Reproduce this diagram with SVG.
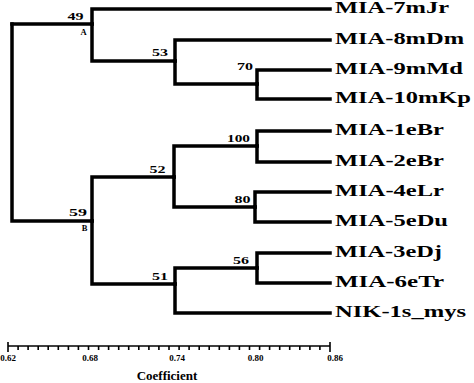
<svg xmlns="http://www.w3.org/2000/svg" width="474" height="383" viewBox="0 0 474 383">
<style>
.e{fill:none;stroke:#000;stroke-width:3.5;stroke-linecap:square;stroke-linejoin:miter}
.ax{fill:none;stroke:#000;stroke-width:1.6}
.leaf{font-family:"Liberation Serif","Times New Roman",serif;font-weight:bold;font-size:16px;fill:#000}
.bs{font-family:"Liberation Serif","Times New Roman",serif;font-weight:bold;font-size:11px;fill:#000;text-anchor:end}
.cl{font-family:"Liberation Serif","Times New Roman",serif;font-weight:bold;font-size:8.5px;fill:#000;text-anchor:middle}
.tk{font-family:"Liberation Serif","Times New Roman",serif;font-weight:bold;font-size:9px;fill:#000;text-anchor:middle}
.ttl{font-family:"Liberation Serif","Times New Roman",serif;font-weight:bold;font-size:13px;fill:#000;text-anchor:middle}
</style>
<rect width="474" height="383" fill="#fff"/>
<g id="connectors">
<path class="e" d="M12 24 H92"/>
<path class="e" d="M12 24 V221 H92"/>
<path class="e" d="M92 24 V9 H330"/>
<path class="e" d="M92 24 V61 H175"/>
<path class="e" d="M175 61 V40 H330"/>
<path class="e" d="M175 61 V84 H257"/>
<path class="e" d="M257 84 V70 H330"/>
<path class="e" d="M257 84 V99 H330"/>
<path class="e" d="M92 221 V177 H174"/>
<path class="e" d="M92 221 V284 H175"/>
<path class="e" d="M174 177 V146 H257"/>
<path class="e" d="M174 177 V207 H255"/>
<path class="e" d="M257 146 V131 H330"/>
<path class="e" d="M257 146 V162 H330"/>
<path class="e" d="M255 207 V192 H330"/>
<path class="e" d="M255 207 V222 H330"/>
<path class="e" d="M175 284 V268 H257"/>
<path class="e" d="M175 284 V313 H330"/>
<path class="e" d="M257 268 V253 H330"/>
<path class="e" d="M257 268 V283 H330"/>
</g>
<g id="nodeA"><text class="bs" x="83.5" y="20" textLength="16" lengthAdjust="spacingAndGlyphs">49</text><text class="cl" x="83.5" y="35">A</text></g>
<g id="node53"><text class="bs" x="168" y="56" textLength="16" lengthAdjust="spacingAndGlyphs">53</text></g>
<g id="node70"><text class="bs" x="253" y="69.5" textLength="16" lengthAdjust="spacingAndGlyphs">70</text></g>
<g id="nodeB"><text class="bs" x="87" y="216" textLength="18" lengthAdjust="spacingAndGlyphs">59</text><text class="cl" x="84.5" y="231">B</text></g>
<g id="node52"><text class="bs" x="165.5" y="173" textLength="16" lengthAdjust="spacingAndGlyphs">52</text></g>
<g id="node100"><text class="bs" x="250" y="142" textLength="23" lengthAdjust="spacingAndGlyphs">100</text></g>
<g id="node80"><text class="bs" x="250.5" y="203" textLength="16" lengthAdjust="spacingAndGlyphs">80</text></g>
<g id="node51"><text class="bs" x="168" y="280" textLength="16" lengthAdjust="spacingAndGlyphs">51</text></g>
<g id="node56"><text class="bs" x="249" y="264" textLength="16" lengthAdjust="spacingAndGlyphs">56</text></g>
<g id="leaf-7mJr"><text class="leaf" x="335" y="13" textLength="114" lengthAdjust="spacingAndGlyphs">MIA-7mJr</text></g>
<g id="leaf-8mDm"><text class="leaf" x="335" y="44" textLength="129" lengthAdjust="spacingAndGlyphs">MIA-8mDm</text></g>
<g id="leaf-9mMd"><text class="leaf" x="335" y="74" textLength="128" lengthAdjust="spacingAndGlyphs">MIA-9mMd</text></g>
<g id="leaf-10mKp"><text class="leaf" x="335" y="103" textLength="136" lengthAdjust="spacingAndGlyphs">MIA-10mKp</text></g>
<g id="leaf-1eBr"><text class="leaf" x="335" y="135" textLength="109" lengthAdjust="spacingAndGlyphs">MIA-1eBr</text></g>
<g id="leaf-2eBr"><text class="leaf" x="335" y="166" textLength="109" lengthAdjust="spacingAndGlyphs">MIA-2eBr</text></g>
<g id="leaf-4eLr"><text class="leaf" x="335" y="196" textLength="109" lengthAdjust="spacingAndGlyphs">MIA-4eLr</text></g>
<g id="leaf-5eDu"><text class="leaf" x="335" y="226" textLength="113" lengthAdjust="spacingAndGlyphs">MIA-5eDu</text></g>
<g id="leaf-3eDj"><text class="leaf" x="335" y="257" textLength="107" lengthAdjust="spacingAndGlyphs">MIA-3eDj</text></g>
<g id="leaf-6eTr"><text class="leaf" x="335" y="287" textLength="109" lengthAdjust="spacingAndGlyphs">MIA-6eTr</text></g>
<g id="leaf-NIK"><text class="leaf" x="335" y="317" textLength="131" lengthAdjust="spacingAndGlyphs">NIK-1s_mys</text></g>
<g id="axis">
<path class="ax" d="M8 346 H330 M8 342 V352 M330 342 V352"/>
<path class="ax" stroke-width="1.2" d="M18.1 346v4M28.1 346v4M38.2 346v4M48.2 346v4M58.3 346v4M68.4 346v4M78.4 346v4M88.5 346v4M98.6 346v4M108.6 346v4M118.7 346v4M128.7 346v4M138.8 346v4M148.9 346v4M158.9 346v4M169 346v4M179.1 346v4M189.1 346v4M199.2 346v4M209.2 346v4M219.3 346v4M229.4 346v4M239.4 346v4M249.5 346v4M259.6 346v4M269.6 346v4M279.7 346v4M289.7 346v4M299.8 346v4M309.9 346v4M319.9 346v4"/>
<text class="tk" x="8" y="361">0.62</text>
<text class="tk" x="90" y="361">0.68</text>
<text class="tk" x="177" y="361">0.74</text>
<text class="tk" x="255.5" y="361">0.80</text>
<text class="tk" x="335" y="361">0.86</text>
<text class="ttl" x="167" y="380">Coefficient</text>
</g>
</svg>
